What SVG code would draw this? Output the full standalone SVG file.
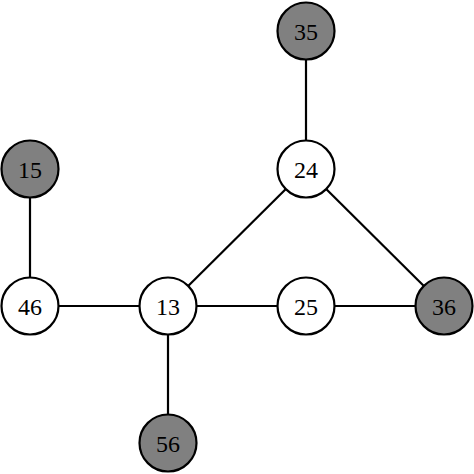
<svg xmlns="http://www.w3.org/2000/svg" width="474" height="474" viewBox="0 0 474 474">
<style>
.n circle{stroke:#000;stroke-width:2.2}
.w circle{fill:#fff}
.g circle{fill:#808080}
.n text{font-family:"Liberation Serif","DejaVu Serif",serif;font-size:24px;text-anchor:middle;dominant-baseline:central;fill:#000}
.e line{stroke:#000;stroke-width:2.2}
</style>
<rect width="474" height="474" fill="#fff"/>
<g class="e" id="edges">
<line x1="306" y1="31" x2="306" y2="169"/>
<line x1="306" y1="169" x2="168" y2="306"/>
<line x1="306" y1="169" x2="444" y2="306"/>
<line x1="30" y1="169" x2="30" y2="306"/>
<line x1="30" y1="306" x2="168" y2="306"/>
<line x1="168" y1="306" x2="306" y2="306"/>
<line x1="306" y1="306" x2="444" y2="306"/>
<line x1="168" y1="306" x2="168" y2="443"/>
</g>
<g id="n35" class="n g"><circle cx="306" cy="31" r="28.5"/><text x="306" y="32">35</text></g>
<g id="n24" class="n w"><circle cx="306" cy="169" r="28.5"/><text x="306" y="170">24</text></g>
<g id="n15" class="n g"><circle cx="30" cy="169" r="28.5"/><text x="30" y="170">15</text></g>
<g id="n46" class="n w"><circle cx="30" cy="306" r="28.5"/><text x="30" y="307">46</text></g>
<g id="n13" class="n w"><circle cx="168" cy="306" r="28.5"/><text x="168" y="307">13</text></g>
<g id="n25" class="n w"><circle cx="306" cy="306" r="28.5"/><text x="306" y="307">25</text></g>
<g id="n36" class="n g"><circle cx="444" cy="306" r="28.5"/><text x="444" y="307">36</text></g>
<g id="n56" class="n g"><circle cx="168" cy="443" r="28.5"/><text x="168" y="444">56</text></g>
</svg>
